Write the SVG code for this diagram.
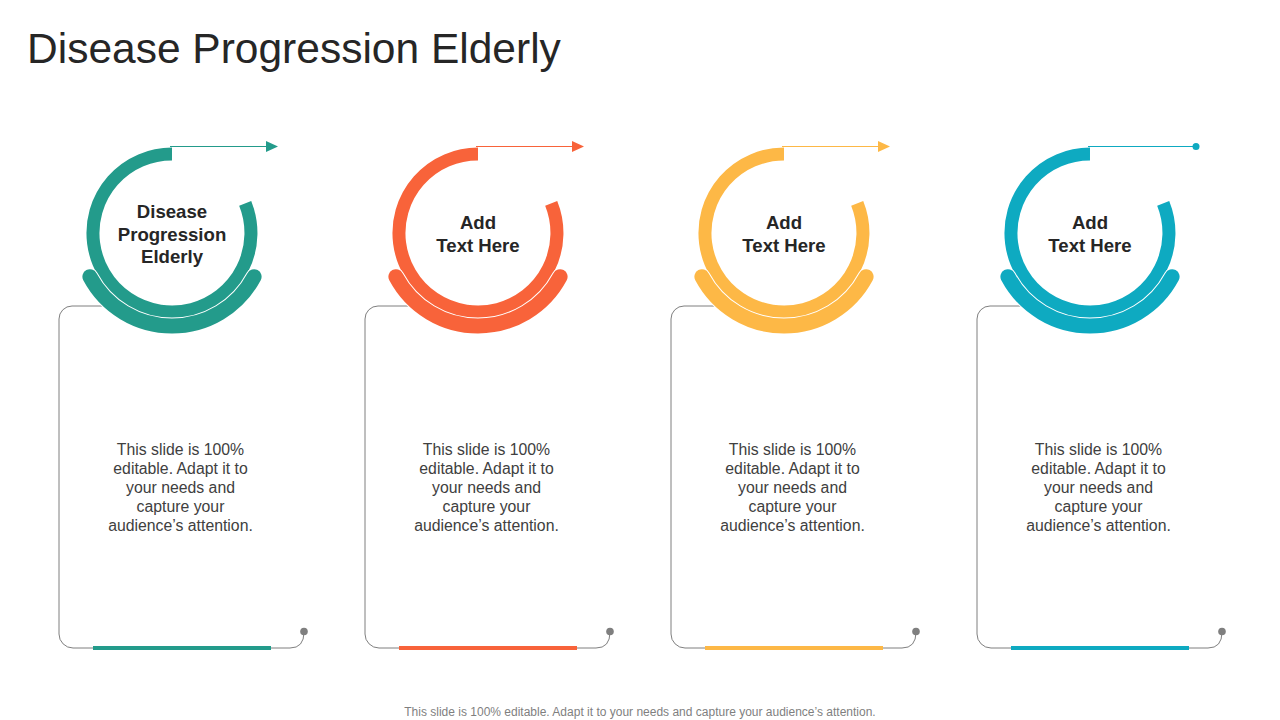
<svg xmlns="http://www.w3.org/2000/svg" width="1280" height="720" viewBox="0 0 1280 720">
  <style>
    .title { font-family: "Liberation Sans", Arial, sans-serif; font-size: 42.5px; fill: #262626; }
    .head { font-family: "Liberation Sans", Arial, sans-serif; font-size: 18.6px; font-weight: bold; fill: #262626; text-anchor: middle; }
    .body { font-family: "Liberation Sans", Arial, sans-serif; font-size: 15.8px; fill: #404040; text-anchor: middle; }
    .foot { font-family: "Liberation Sans", Arial, sans-serif; font-size: 12px; fill: #7f7f7f; text-anchor: middle; }
    .ring { fill: none; stroke-width: 13; }
    .gap { fill: none; stroke: #ffffff; stroke-width: 17; stroke-linecap: round; }
    .band { fill: none; stroke-width: 15; stroke-linecap: round; }
    .frame { fill: none; stroke: #7f7f7f; stroke-width: 1; }
    .dot { fill: #7f7f7f; }
    .bar { stroke-width: 4; }
    .ptr { stroke-width: 1.2; fill: none; }
    .c1 { stroke: #239b8b; } .f1 { fill: #239b8b; }
    .c2 { stroke: #f8633a; } .f2 { fill: #f8633a; }
    .c3 { stroke: #fdb846; } .f3 { fill: #fdb846; }
    .c4 { stroke: #0eaac1; } .f4 { fill: #0eaac1; }
  </style>
  <rect width="1280" height="720" fill="#ffffff"/>
  <text class="title" x="27" y="63">Disease Progression Elderly</text>

  <g id="connectors">
    <g transform="translate(0,0)">
      <line class="ptr c1" x1="170" y1="146.5" x2="268" y2="146.5"/>
      <polygon class="f1" points="266,141 278,146.5 266,152"/>
    </g>
    <g transform="translate(306,0)">
      <line class="ptr c2" x1="170" y1="146.5" x2="268" y2="146.5"/>
      <polygon class="f2" points="266,141 278,146.5 266,152"/>
    </g>
    <g transform="translate(612,0)">
      <line class="ptr c3" x1="170" y1="146.5" x2="268" y2="146.5"/>
      <polygon class="f3" points="266,141 278,146.5 266,152"/>
    </g>
    <g transform="translate(918,0)">
      <line class="ptr c4" x1="170" y1="146.5" x2="276" y2="146.5"/>
      <circle class="f4" cx="278" cy="146.5" r="3.5"/>
    </g>
  </g>

  <g id="node1" transform="translate(0,0)">
    <path class="frame" d="M 104 306 H 72 A 13 13 0 0 0 59 319 V 634 A 14 14 0 0 0 73 648 H 290 Q 304 648 304 632"/>
    <circle class="dot" cx="304" cy="631.5" r="3.8"/>
    <line class="bar c1" x1="93" y1="648" x2="271" y2="648"/>
    <path class="ring c1" d="M 172 154 A 79 79 0 1 0 245.2 203.4"/>
    <path class="gap" d="M 89.9 276.7 A 93 93 0 0 0 254.1 276.7"/>
    <path class="band c1" d="M 89.9 276.7 A 93 93 0 0 0 254.1 276.7"/>
    <text class="head" x="172" y="218">Disease</text>
    <text class="head" x="172" y="241">Progression</text>
    <text class="head" x="172" y="263">Elderly</text>
    <text class="body" x="180.5" y="454.5">This slide is 100%</text>
    <text class="body" x="180.5" y="473.5">editable. Adapt it to</text>
    <text class="body" x="180.5" y="492.5">your needs and</text>
    <text class="body" x="180.5" y="511.5">capture your</text>
    <text class="body" x="180.5" y="530.5">audience’s attention.</text>
  </g>

  <g id="node2" transform="translate(306,0)">
    <path class="frame" d="M 104 306 H 72 A 13 13 0 0 0 59 319 V 634 A 14 14 0 0 0 73 648 H 290 Q 304 648 304 632"/>
    <circle class="dot" cx="304" cy="631.5" r="3.8"/>
    <line class="bar c2" x1="93" y1="648" x2="271" y2="648"/>
    <path class="ring c2" d="M 172 154 A 79 79 0 1 0 245.2 203.4"/>
    <path class="gap" d="M 89.9 276.7 A 93 93 0 0 0 254.1 276.7"/>
    <path class="band c2" d="M 89.9 276.7 A 93 93 0 0 0 254.1 276.7"/>
    <text class="head" x="172" y="229">Add</text>
    <text class="head" x="172" y="252">Text Here</text>
    <text class="body" x="180.5" y="454.5">This slide is 100%</text>
    <text class="body" x="180.5" y="473.5">editable. Adapt it to</text>
    <text class="body" x="180.5" y="492.5">your needs and</text>
    <text class="body" x="180.5" y="511.5">capture your</text>
    <text class="body" x="180.5" y="530.5">audience’s attention.</text>
  </g>

  <g id="node3" transform="translate(612,0)">
    <path class="frame" d="M 104 306 H 72 A 13 13 0 0 0 59 319 V 634 A 14 14 0 0 0 73 648 H 290 Q 304 648 304 632"/>
    <circle class="dot" cx="304" cy="631.5" r="3.8"/>
    <line class="bar c3" x1="93" y1="648" x2="271" y2="648"/>
    <path class="ring c3" d="M 172 154 A 79 79 0 1 0 245.2 203.4"/>
    <path class="gap" d="M 89.9 276.7 A 93 93 0 0 0 254.1 276.7"/>
    <path class="band c3" d="M 89.9 276.7 A 93 93 0 0 0 254.1 276.7"/>
    <text class="head" x="172" y="229">Add</text>
    <text class="head" x="172" y="252">Text Here</text>
    <text class="body" x="180.5" y="454.5">This slide is 100%</text>
    <text class="body" x="180.5" y="473.5">editable. Adapt it to</text>
    <text class="body" x="180.5" y="492.5">your needs and</text>
    <text class="body" x="180.5" y="511.5">capture your</text>
    <text class="body" x="180.5" y="530.5">audience’s attention.</text>
  </g>

  <g id="node4" transform="translate(918,0)">
    <path class="frame" d="M 104 306 H 72 A 13 13 0 0 0 59 319 V 634 A 14 14 0 0 0 73 648 H 290 Q 304 648 304 632"/>
    <circle class="dot" cx="304" cy="631.5" r="3.8"/>
    <line class="bar c4" x1="93" y1="648" x2="271" y2="648"/>
    <path class="ring c4" d="M 172 154 A 79 79 0 1 0 245.2 203.4"/>
    <path class="gap" d="M 89.9 276.7 A 93 93 0 0 0 254.1 276.7"/>
    <path class="band c4" d="M 89.9 276.7 A 93 93 0 0 0 254.1 276.7"/>
    <text class="head" x="172" y="229">Add</text>
    <text class="head" x="172" y="252">Text Here</text>
    <text class="body" x="180.5" y="454.5">This slide is 100%</text>
    <text class="body" x="180.5" y="473.5">editable. Adapt it to</text>
    <text class="body" x="180.5" y="492.5">your needs and</text>
    <text class="body" x="180.5" y="511.5">capture your</text>
    <text class="body" x="180.5" y="530.5">audience’s attention.</text>
  </g>

  <text class="foot" x="640" y="716">This slide is 100% editable. Adapt it to your needs and capture your audience’s attention.</text>
</svg>
